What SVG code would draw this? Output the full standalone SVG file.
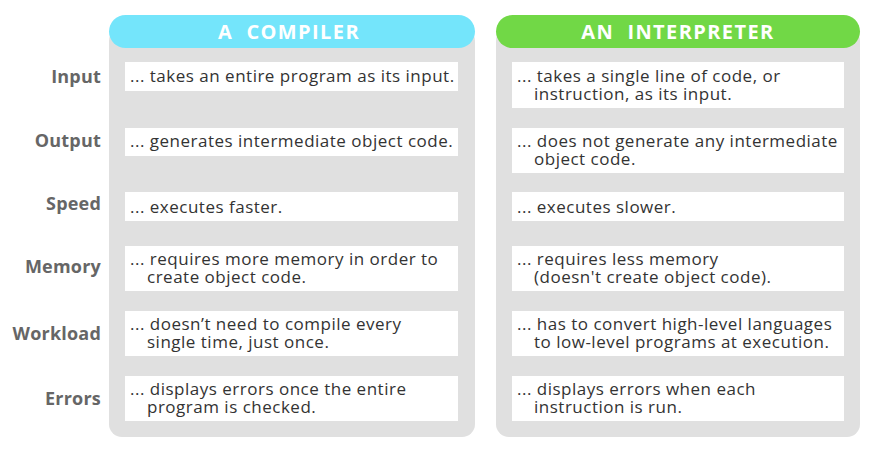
<svg xmlns="http://www.w3.org/2000/svg" width="882" height="460" viewBox="0 0 882 460">
<style>
.panel{fill:#e0e0e0}
.box{fill:#ffffff}
.lbl{font-family:"Open Sans","Liberation Sans",sans-serif;font-weight:700;font-size:18px;fill:#666666;text-anchor:end;letter-spacing:0.2px}
.t{font-family:"Open Sans","Liberation Sans",sans-serif;font-size:17px;fill:#333333;letter-spacing:0.5px}
.hd{font-family:"Open Sans","Liberation Sans",sans-serif;font-weight:700;font-size:20px;fill:#ffffff;text-anchor:middle;letter-spacing:1.4px}
</style>
<rect width="882" height="460" fill="#ffffff"/>
<g id="labels">
<text class="lbl" x="101" y="83">Input</text>
<text class="lbl" x="101" y="147">Output</text>
<text class="lbl" x="101" y="210">Speed</text>
<text class="lbl" x="101" y="273">Memory</text>
<text class="lbl" x="101" y="340">Workload</text>
<text class="lbl" x="101" y="405">Errors</text>
</g>
<g id="compiler">
<rect class="panel" x="109" y="28" width="366" height="409" rx="13"/>
<rect x="109" y="15" width="366" height="33" rx="16.5" fill="#74e5fb"/>
<text class="hd" x="289" y="39" xml:space="preserve">A  COMPILER</text>
<rect class="box" x="125" y="62" width="333" height="29"/>
<text class="t" x="130" y="82">... takes an entire program as its input.</text>
<rect class="box" x="125" y="128" width="333" height="28"/>
<text class="t" x="130" y="147">... generates intermediate object code.</text>
<rect class="box" x="125" y="192" width="333" height="29"/>
<text class="t" x="130" y="213">... executes faster.</text>
<rect class="box" x="125" y="246" width="333" height="45"/>
<text class="t" x="130" y="265">... requires more memory in order to</text>
<text class="t" x="147" y="283">create object code.</text>
<rect class="box" x="125" y="311" width="333" height="45"/>
<text class="t" x="130" y="330">... doesn’t need to compile every</text>
<text class="t" x="147" y="348">single time, just once.</text>
<rect class="box" x="125" y="376" width="333" height="45"/>
<text class="t" x="130" y="395">... displays errors once the entire</text>
<text class="t" x="147" y="413">program is checked.</text>
</g>
<g id="interpreter">
<rect class="panel" x="496" y="28" width="364" height="409" rx="13"/>
<rect x="496" y="15" width="364" height="33" rx="16.5" fill="#71d846"/>
<text class="hd" x="678" y="39" xml:space="preserve">AN  INTERPRETER</text>
<rect class="box" x="512" y="62" width="332" height="46"/>
<text class="t" x="517" y="82">... takes a single line of code, or</text>
<text class="t" x="534" y="100">instruction, as its input.</text>
<rect class="box" x="512" y="128" width="332" height="45"/>
<text class="t" x="517" y="147">... does not generate any intermediate</text>
<text class="t" x="534" y="165">object code.</text>
<rect class="box" x="512" y="192" width="332" height="29"/>
<text class="t" x="517" y="213">... executes slower.</text>
<rect class="box" x="512" y="246" width="332" height="45"/>
<text class="t" x="517" y="265">... requires less memory</text>
<text class="t" x="534" y="283">(doesn't create object code).</text>
<rect class="box" x="512" y="311" width="332" height="45"/>
<text class="t" x="517" y="330">... has to convert high-level languages</text>
<text class="t" x="534" y="348">to low-level programs at execution.</text>
<rect class="box" x="512" y="376" width="332" height="45"/>
<text class="t" x="517" y="395">... displays errors when each</text>
<text class="t" x="534" y="413">instruction is run.</text>
</g>
</svg>
